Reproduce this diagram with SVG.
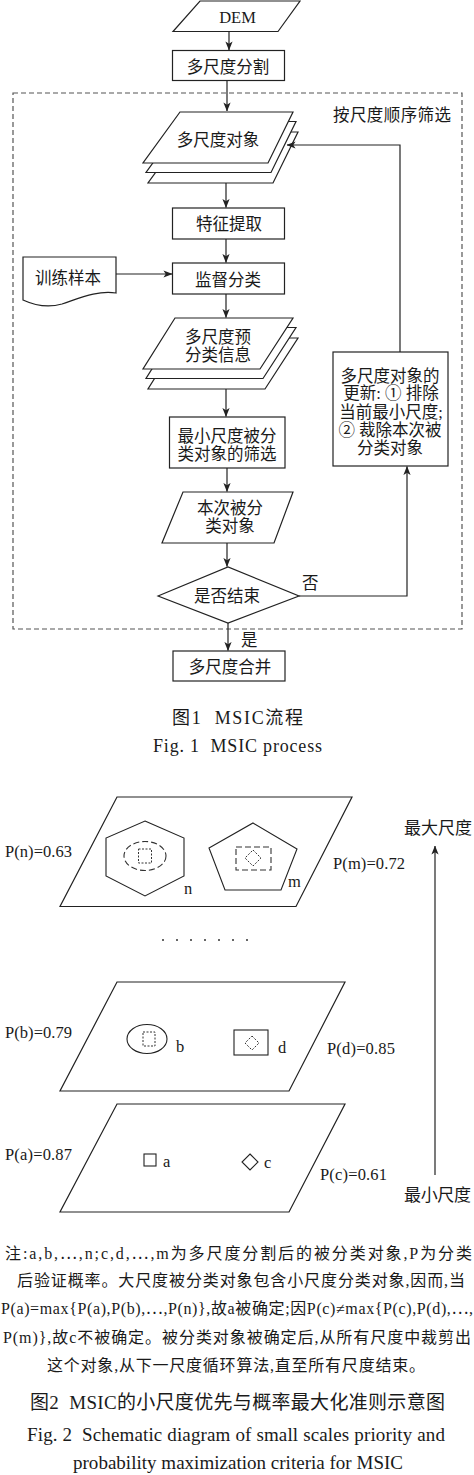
<svg xmlns="http://www.w3.org/2000/svg" width="474" height="1475" viewBox="0 0 474 1475">
<style>
.s{fill:#fff;stroke:#222;stroke-width:1.2}
.o{fill:none;stroke:#222;stroke-width:1.1}
.dash{fill:none;stroke:#333;stroke-width:1.1;stroke-dasharray:6,3}
.dot{fill:none;stroke:#333;stroke-width:1;stroke-dasharray:2,1.5}
.t{font-family:"Liberation Serif","Noto Sans CJK SC",serif;fill:#1a1a1a}
.r{font-family:"Liberation Serif",serif;fill:#1a1a1a}
.k{font-family:"Noto Sans CJK SC",sans-serif}
.c{font-size:16.5px;text-anchor:middle}
.lab{font-size:16.5px}
.cap{font-size:18px;text-anchor:middle}
.note{font-size:16px}
.con{fill:none;stroke:#222;stroke-width:1.2}
.arr{marker-end:url(#ah)}
</style>
<defs>
<marker id="ah" viewBox="0 0 10 8" refX="9.5" refY="4" markerWidth="9" markerHeight="8" markerUnits="userSpaceOnUse" orient="auto">
<path d="M0,0 L10,4 L0,8 L2.5,4 z" fill="#222"/>
</marker>
</defs>
<rect width="474" height="1475" fill="#fff"/>

<!-- Figure 1 -->
<rect x="13" y="93" width="449" height="536" fill="none" stroke="#555" stroke-width="1.2" stroke-dasharray="5,3"/>
<text class="t lab" x="333" y="121" textLength="118">按尺度顺序筛选</text>

<g id="dem">
<polygon class="s" points="200,1 300,1 278,31.5 173,31.5"/>
<text class="r c" x="237.5" y="23">DEM</text>
</g>
<g id="seg">
<rect class="s" x="172.5" y="50.5" width="112" height="30"/>
<text class="t c" x="228" y="73">多尺度分割</text>
</g>
<g id="objs">
<polygon class="s" points="185,132 298,132 273,183 148,183"/>
<polygon class="s" points="183,121.5 296,121.5 271,172.5 146,172.5"/>
<polygon class="s" points="180,112 293,112 268,163 143,163"/>
<text class="t c" x="218" y="145.5">多尺度对象</text>
</g>
<g id="feat">
<rect class="s" x="172.5" y="208" width="112" height="31"/>
<text class="t c" x="229" y="230">特征提取</text>
</g>
<g id="sample">
<path class="s" d="M23,257 L116,257 L116,293 C98,290 80,298 62,304 C48,308 36,306 23,300 Z"/>
<text class="t c" x="68" y="284">训练样本</text>
</g>
<g id="classify">
<rect class="s" x="172.5" y="263" width="112" height="31"/>
<text class="t c" x="228" y="286">监督分类</text>
</g>
<g id="preinfo">
<polygon class="s" points="180,338 298,338 265,389 148,389"/>
<polygon class="s" points="178,327.5 296,327.5 263,378.5 146,378.5"/>
<polygon class="s" points="175,318 293,318 260,369 143,369"/>
<text class="t c" x="218" y="343">多尺度预</text>
<text class="t c" x="218" y="361">分类信息</text>
</g>
<g id="filter">
<rect class="s" x="169.5" y="417" width="115.5" height="51"/>
<text class="t c" x="227" y="442">最小尺度被分</text>
<text class="t c" x="227" y="460">类对象的筛选</text>
</g>
<g id="current">
<polygon class="s" points="183,492 293,492 274,543 162,543"/>
<text class="t c" x="230" y="514">本次被分</text>
<text class="t c" x="230" y="532">类对象</text>
</g>
<g id="end">
<polygon class="s" points="158,596 228,567 299,596 228,623"/>
<text class="t c" x="227" y="602">是否结束</text>
</g>
<g id="merge">
<rect class="s" x="173" y="651" width="112" height="30"/>
<text class="t c" x="230" y="673">多尺度合并</text>
</g>
<g id="update">
<rect class="s" x="333" y="352" width="115" height="114"/>
<text class="t c" x="390" y="382">多尺度对象的</text>
<text class="t c" x="391" y="399">更新: ① 排除</text>
<text class="t c" x="391" y="418">当前最小尺度;</text>
<text class="t c" x="390" y="436">② 裁除本次被</text>
<text class="t c" x="390" y="454">分类对象</text>
</g>

<g id="connectors">
<line class="con arr" x1="229" y1="31.5" x2="229" y2="50"/>
<line class="con arr" x1="227" y1="80.5" x2="227" y2="111"/>
<line class="con arr" x1="226" y1="183" x2="226" y2="207.5"/>
<line class="con arr" x1="226" y1="239" x2="226" y2="262.5"/>
<line class="con arr" x1="116" y1="274" x2="172" y2="274"/>
<line class="con arr" x1="226" y1="294" x2="226" y2="317.5"/>
<line class="con arr" x1="226" y1="389" x2="226" y2="416.5"/>
<line class="con arr" x1="227" y1="468" x2="227" y2="491.5"/>
<line class="con arr" x1="227" y1="543" x2="227" y2="566.5"/>
<line class="con arr" x1="228" y1="623" x2="228" y2="650.5"/>
<polyline class="con arr" points="299,596 407,596 407,466.5"/>
<polyline class="con arr" points="400,352 400,145 287,145"/>
<text class="t lab" x="302" y="589">否</text>
<text class="t lab" x="241" y="646">是</text>
</g>

<text class="t cap" x="237.5" y="724" xml:space="preserve" textLength="131">图1  MSIC流程</text>
<text class="r cap" x="237.5" y="752" xml:space="preserve" textLength="169">Fig. 1  MSIC process</text>

<!-- Figure 2 -->
<g id="scale-max">
<polygon class="s" points="117,797 352,797 296,906.5 60,906.5"/>
<polygon class="o" points="145,821 184,838 184,876 145,896 106,876 106,838"/>
<ellipse class="dash" cx="145" cy="856" rx="21" ry="14.5"/>
<rect class="dot" x="138.5" y="849" width="13" height="14"/>
<polygon class="o" points="253,823 297,849 281,890 225,890 209,848"/>
<rect class="dash" x="236" y="847" width="35" height="23"/>
<polygon class="dot" points="253,850 261,858 253,866 245,858"/>
<text class="r lab" x="184" y="894">n</text>
<text class="r lab" x="288" y="887">m</text>
<text class="r lab" x="5" y="857" textLength="67">P(n)=0.63</text>
<text class="r lab" x="333" y="869" textLength="72">P(m)=0.72</text>
</g>
<g id="ellipsis" fill="#333">
<circle cx="163" cy="940" r="1"/><circle cx="177" cy="940" r="1"/><circle cx="191" cy="940" r="1"/><circle cx="205" cy="940" r="1"/><circle cx="219" cy="940" r="1"/><circle cx="233" cy="940" r="1"/><circle cx="247" cy="940" r="1"/>
</g>
<g id="scale-mid">
<polygon class="s" points="117,982 345,982 289,1091 60,1091"/>
<ellipse class="o" cx="147" cy="1039" rx="20" ry="14.5"/>
<rect class="dot" x="143" y="1032" width="12" height="14"/>
<rect class="o" x="234" y="1030" width="34" height="25"/>
<polygon class="dot" points="252,1036 259,1043 252,1050 245,1043"/>
<text class="r lab" x="176" y="1052">b</text>
<text class="r lab" x="278" y="1053">d</text>
<text class="r lab" x="5" y="1038" textLength="67">P(b)=0.79</text>
<text class="r lab" x="327" y="1054" textLength="68">P(d)=0.85</text>
</g>
<g id="scale-min">
<polygon class="s" points="117,1104 345,1104 289,1212 60,1212"/>
<rect class="o" x="144" y="1154" width="12" height="12"/>
<polygon class="o" points="250,1154 258,1162 250,1170 242,1162"/>
<text class="r lab" x="163" y="1167">a</text>
<text class="r lab" x="264" y="1168">c</text>
<text class="r lab" x="5" y="1160" textLength="67">P(a)=0.87</text>
<text class="r lab" x="320" y="1180" textLength="67">P(c)=0.61</text>
</g>
<g id="scale-axis">
<line class="con arr" x1="435" y1="1175" x2="435" y2="846"/>
<text class="t" x="404" y="834" font-size="17" textLength="68">最大尺度</text>
<text class="t" x="404" y="1201" font-size="17" textLength="67">最小尺度</text>
</g>

<text class="t note" x="5" y="1259" textLength="467">注:a,b,<tspan class="k">⋯</tspan>,n;c,d,<tspan class="k">⋯</tspan>,m为多尺度分割后的被分类对象,P为分类</text>
<text class="t note" x="17" y="1286" textLength="448">后验证概率。大尺度被分类对象包含小尺度分类对象,因而,当</text>
<text class="t note" x="1" y="1314" textLength="472">P(a)=max{P(a),P(b),<tspan class="k">⋯</tspan>,P(n)},故a被确定;因P(c)≠max{P(c),P(d),<tspan class="k">⋯</tspan>,</text>
<text class="t note" x="3" y="1343" textLength="468">P(m)},故c不被确定。被分类对象被确定后,从所有尺度中裁剪出</text>
<text class="t note" x="47" y="1371" textLength="378">这个对象,从下一尺度循环算法,直至所有尺度结束。</text>
<text class="t" x="30" y="1409" font-size="19" xml:space="preserve" textLength="415">图2  MSIC的小尺度优先与概率最大化准则示意图</text>
<text class="r" x="27" y="1441" font-size="19" xml:space="preserve" textLength="418">Fig. 2  Schematic diagram of small scales priority and</text>
<text class="r" x="73" y="1469" font-size="19" textLength="330">probability maximization criteria for MSIC</text>
</svg>
